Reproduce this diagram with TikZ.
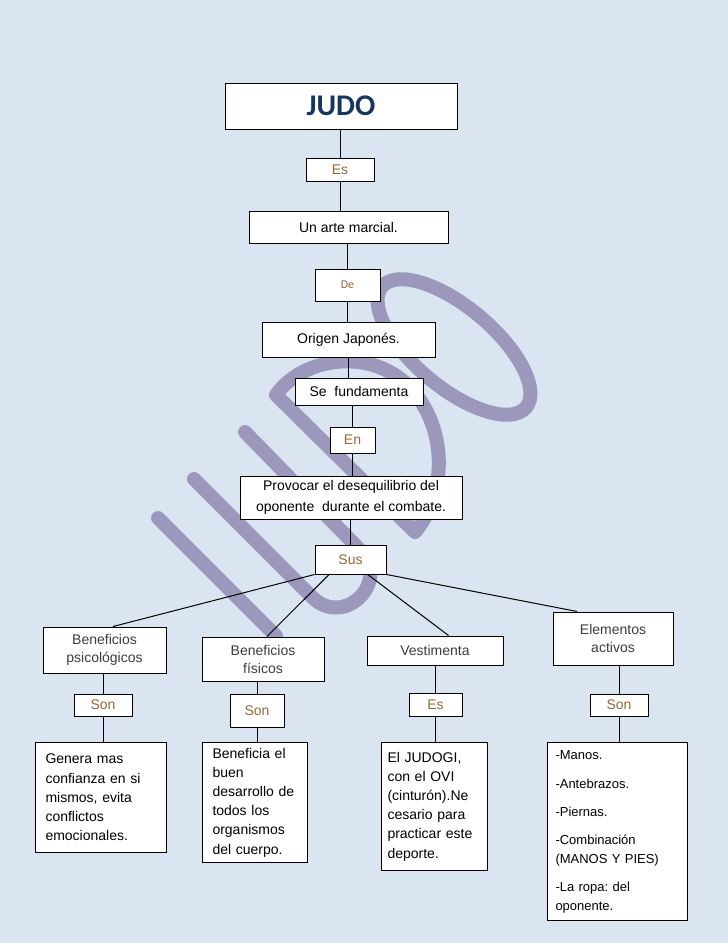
\documentclass[tikz,border=0pt]{standalone}
\usepackage{fontspec}
\setmainfont{Liberation Sans}
\newfontfamily\calibrifont{Carlito}
\frenchspacing

\definecolor{pageblue}{RGB}{219,229,241}
\definecolor{wmark}{RGB}{155,152,187}
\definecolor{linkbrown}{RGB}{152,102,56}
\definecolor{titleblue}{RGB}{23,54,93}
\definecolor{branchgray}{RGB}{60,60,66}

\tikzset{
  box/.style={draw, fill=white, line width=0.75pt, inner sep=0pt, align=center,
    font=\fontsize{10.5pt}{13.5pt}\selectfont},
  linkbox/.style={box, text=linkbrown},
  branch/.style={box, text=branchgray},
  textbox/.style={draw, fill=white, line width=0.75pt, anchor=north west,
    align=left, inner ysep=0pt, font=\fontsize{10.5pt}{14.4pt}\selectfont},
}

\begin{document}
\begin{tikzpicture}[x=0.75pt,y=-0.75pt]
\fill[pageblue] (0,0) rectangle (728,943);
\useasboundingbox (0,0) rectangle (728,943);

% watermark letters
\begin{scope}[draw=wmark, line width=10.5pt, line cap=round, line join=round]
\draw (158,518) -- (276,636);
\draw (194,479) -- (312,597) .. controls (343.7,628.7) and (391.7,581.7) .. (360,550) -- (245,432);
\draw (276,395) -- (415,532) .. controls (450,490) and (447,418) .. (402,380) .. controls (362,348) and (300,360) .. (276,395);
\draw[rotate around={-40:(454,347)}] (454,347) ellipse [x radius=94, y radius=40];
\end{scope}

% draw boxes
\node[box, minimum width=174pt, minimum height=34.5pt, text=titleblue,
  font=\calibrifont\bfseries\fontsize{22.5pt}{27pt}\selectfont] (judo) at (341,106) {JUDO};
\node[linkbox, minimum width=51pt, minimum height=17.25pt] (es) at (340,169.5) {Es};
\node[box, minimum width=149.25pt, minimum height=24pt] (arte) at (348.5,227) {Un arte marcial.};
\node[linkbox, minimum width=48.75pt, minimum height=24pt,
  font=\calibrifont\fontsize{9pt}{11pt}\selectfont] (de) at (347.5,285) {De};
\node[box, minimum width=129.75pt, minimum height=26.25pt] (origen) at (348.5,339.5) {Origen Japonés.};
\node[box, minimum width=96pt, minimum height=20.25pt] (funda) at (359,391.5) {Se\ \ fundamenta};
\node[linkbox, minimum width=33.75pt, minimum height=19.5pt] (en) at (352.5,440) {En};
\node[box, minimum width=166.5pt, minimum height=32.25pt,
  font=\fontsize{10.5pt}{16pt}\selectfont] (provoca) at (351,497.5) {Provocar el desequilibrio del\\oponente\ \ durante el combate.};
\node[linkbox, minimum width=53.25pt, minimum height=21.75pt] (sus) at (350.5,559.5) {Sus};

% second row
\node[branch, minimum width=92.25pt, minimum height=34.5pt] (psico) at (104.5,650) {Beneficios\\psicológicos};
\node[branch, minimum width=91.5pt, minimum height=33pt] (fisico) at (263,659) {Beneficios\\físicos};
\node[branch, minimum width=102pt, minimum height=21.75pt] (vesti) at (435,650.5) {Vestimenta};
\node[branch, minimum width=90pt, minimum height=39.75pt] (activo) at (613,638.5) {Elementos\\activos};

\node[linkbox, minimum width=43.5pt, minimum height=16.5pt] (son1) at (103,705) {Son};
\node[linkbox, minimum width=40.5pt, minimum height=24.75pt] (son2) at (257,710.5) {Son};
\node[linkbox, minimum width=39.75pt, minimum height=17.25pt] (es2) at (435.5,704.5) {Es};
\node[linkbox, minimum width=43.5pt, minimum height=16.5pt] (son4) at (619,705) {Son};

% text boxes
\node[textbox, text width=83.25pt, inner xsep=7.5pt, minimum height=82.5pt] (genera) at (35,742)
  {Genera mas\\confianza en si\\mismos, evita\\conflictos\\emocionales.};
\node[textbox, text width=63.75pt, inner xsep=7.5pt, minimum height=90pt] (benef) at (202,742)
  {Beneficia el\\buen\\desarrollo de\\todos los\\organismos\\del cuerpo.};
\node[textbox, text width=70.5pt, inner xsep=4.5pt, minimum height=96pt] (judogi) at (381,742)
  {El JUDOGI,\\con el OVI\\(cinturón).Ne\\cesario para\\practicar este\\deporte.};
\node[textbox, text width=93pt, inner xsep=6pt, minimum height=133.5pt,
  font=\fontsize{9.75pt}{14.25pt}\selectfont] (partes) at (547,742)
  {-Manos.\\[7.5pt]-Antebrazos.\\[6.75pt]-Piernas.\\[6.75pt]-Combinación\\(MANOS Y PIES)\\[6.75pt]-La ropa: del\\oponente.};

% draw lines
\begin{scope}[line width=0.75pt]
\draw (judo.south -| es.north) -- (es.north);
\draw (es.south) -- (es.south |- arte.north);
\draw (arte.south -| de.north) -- (de.north);
\draw (de.south) -- (de.south |- origen.north);
\draw (origen.south) -- (origen.south |- funda.north);
\draw (en.north |- funda.south) -- (en.north);
\draw (en.south) -- (en.south |- provoca.north);
\draw (sus.north |- provoca.south) -- (sus.north);

\foreach \s/\t in {sus.south west/psico.70, sus.215/fisico.80, sus.319/vesti.48, sus.south east/activo.143}
\draw (\s) -- (\t);

\foreach \a/\b/\c in {psico/son1/genera, fisico/son2/benef, vesti/es2/judogi, activo/son4/partes} {
\draw (\b.north |- \a.south) -- (\b.north);
\draw (\b.south) -- (\b.south |- \c.north);
}
\end{scope}

\end{tikzpicture}
\end{document}
